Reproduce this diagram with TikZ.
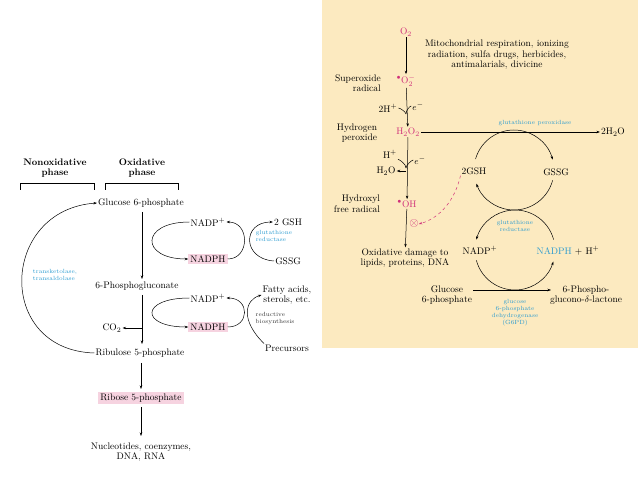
\documentclass[tikz,border=0pt]{standalone}
\usetikzlibrary{arrows.meta}
\definecolor{bg}{HTML}{FCEAC0}
\definecolor{pk}{HTML}{F6D3E0}
\definecolor{mag}{HTML}{D0307A}
\definecolor{bl}{HTML}{2A9BD0}
\begin{document}
\begin{tikzpicture}[x=1pt,y=-1pt,
 t/.style={font=\fontsize{9.5}{10.5}\selectfont,align=center,inner sep=1pt},
 b/.style={font=\fontsize{6}{7}\selectfont,align=center,text=bl,inner sep=1pt},
 h/.style={font=\fontsize{9.5}{10.5}\selectfont\bfseries,align=center},
 box/.style={t,fill=pk,inner sep=2pt},
 a/.style={-{Stealth[length=3.5pt,width=2.5pt]},line width=0.5pt},
 l/.style={line width=0.5pt}]
\useasboundingbox (0,0) rectangle (638,478);
\fill[bg] (322,0) rectangle (638,348);
% ---------- left ----------
\node[h] (nox) at (55,168) {Nonoxidative\\phase};
\node[h] (ox) at (142,168) {Oxidative\\phase};
\draw[l] (20,190) -- (20,183) -- (94,183) -- (94,190);
\draw[l] (105,190) -- (105,183) -- (178,183) -- (178,190);
\node[t] (g6p) at (141,203) {Glucose 6-phosphate};
\node[t] (pg) at (137,286) {6-Phosphogluconate};
\node[t] (ru5p) at (140,353) {Ribulose 5-phosphate};
\node[box] (r5p) at (141,398) {Ribose 5-phosphate};
\node[t] (nuc) at (141,452) {Nucleotides, coenzymes,\\DNA, RNA};
\draw[a] (142,212) -- (142,279);
\draw[a] (142,295) -- (142,344);
\draw[a] (141,363) -- (141,389);
\draw[a] (141,407) -- (141,436);
\node[t] (nadp1) at (208,222) {NADP$^+$};
\node[box] (nadph1) at (208,259) {NADPH};
\draw[a] (nadp1.west) .. controls (140,222) and (140,259) .. (nadph1.west);
\draw[a] (nadph1.east) .. controls (250,259) and (250,222) .. (nadp1.east);
\node[t] (gsh2) at (288,222) {2 GSH};
\node[t] (gssg1) at (288,261) {GSSG};
\draw[a] (gssg1.west) .. controls (242,259) and (242,222) .. (gsh2.west);
\node[b,align=left] (gr1) at (274,236) {glutathione\\reductase};
\node[t] (nadp2) at (208,298) {NADP$^+$};
\node[box] (nadph2) at (208,327) {NADPH};
\draw[a] (nadp2.west) .. controls (140,298) and (140,327) .. (nadph2.west);
\draw[a] (nadph2.east) .. controls (250,327) and (250,298) .. (nadp2.east);
\node[t] (co2) at (112,328) {CO$_2$};
\coordinate (c2) at (142,328);
\draw[a] (c2) -- (co2.east);
\node[t] (fa) at (287,295) {Fatty acids,\\sterols, etc.};
\node[t] (prec) at (287,348) {Precursors};
\draw[a] (prec.north west) .. controls (240,320) and (245,300) .. (fa.west);
\node[b,align=left,text=black!80] (rb) at (275,319) {reductive\\biosynthesis};
\node[b,align=left] (tk) at (55,275) {transketolase,\\transaldolase};
\draw[a] (ru5p.west) .. controls (-5,350) and (0,210) .. (g6p.west);
% ---------- right ----------
\node[t,text=mag] (o2) at (406,32) {O$_2$};
\node[t] (mito) at (497,55) {Mitochondrial respiration, ionizing\\radiation, sulfa drugs, herbicides,\\antimalarials, divicine};
\node[t,text=mag] (sup) at (406,81) {$^{\bullet}$O$_2^-$};
\node[t,align=right] (supl) at (358,83) {Superoxide\\radical};
\draw[a] (o2) -- (sup);
\node[t,text=mag] (h2o2) at (408,132) {H$_2$O$_2$};
\node[t,align=right] (h2o2l) at (357,133) {Hydrogen\\peroxide};
\draw[a] (sup) -- (h2o2);
\node[t] (h2p) at (388,108) {2H$^+$};
\node[t] (e1) at (418,106) {$e^-$};
\draw[l] (h2p.east) .. controls (400,108) and (406,112) .. (406,114);
\draw[l] (e1.west) .. controls (410,106) and (406,110) .. (406,114);
\node[t,text=mag] (oh) at (407,204) {$^{\bullet}$OH};
\node[t,align=right] (ohl) at (357,204) {Hydroxyl\\free radical};
\draw[a] (h2o2) -- (oh);
\node[t] (hp) at (390,154) {H$^+$};
\node[t] (e2) at (420,160) {$e^-$};
\node[t] (h2o) at (386,171) {H$_2$O};
\draw[l] (hp.south east) .. controls (400,160) and (406,164) .. (406,168);
\draw[l] (e2.west) .. controls (412,160) and (406,165) .. (406,168);
\coordinate (hw) at (406,171);
\draw[a] (hw) -- (h2o.east);
\node[t] (dmg) at (405,258) {Oxidative damage to\\lipids, proteins, DNA};
\draw[a] (oh) -- (dmg);
\node[text=mag,inner sep=0pt,font=\large] (ot) at (414,224) {$\otimes$};
\node[t] (h2o2b) at (613,132) {2H$_2$O};
\draw[a] (h2o2) -- (h2o2b);
\node[b] (gpx) at (535,123) {glutathione peroxidase};
\node[t] (gsh) at (474,171) {2GSH};
\node[t] (gssg) at (556,172) {GSSG};
\coordinate (cu) at (514,170);
\coordinate (cl) at (515,250);
\draw[a] (cu) ++(196:40) arc[start angle=196,end angle=345,radius=40];
\draw[a] (cu) ++(15:40) arc[start angle=15,end angle=160,radius=40];
\draw[a,dashed,mag] (gsh.south west) .. controls (455,200) and (440,218) .. (ot.east);
\node[b] (gr2) at (515,226) {glutathione\\reductase};
\node[t] (nadp3) at (480,250) {NADP$^+$};
\node[t] (nadph3) at (568,251) {\textcolor{bl}{NADPH} + H$^+$};
\draw[a] (cl) ++(-15:40) arc[start angle=-15,end angle=-165,radius=40];
\draw[a] (cl) ++(165:40) arc[start angle=165,end angle=17,radius=40];
\node[t] (g6p2) at (447,295) {Glucose\\6-phosphate};
\node[t] (lac) at (586,295) {6-Phospho-\\glucono-$\delta$-lactone};
\draw[a] (473,290) -- (551,290);
\node[b] (g6pd) at (515,313) {glucose\\6-phosphate\\dehydrogenase\\(G6PD)};
\end{tikzpicture}
\end{document}
